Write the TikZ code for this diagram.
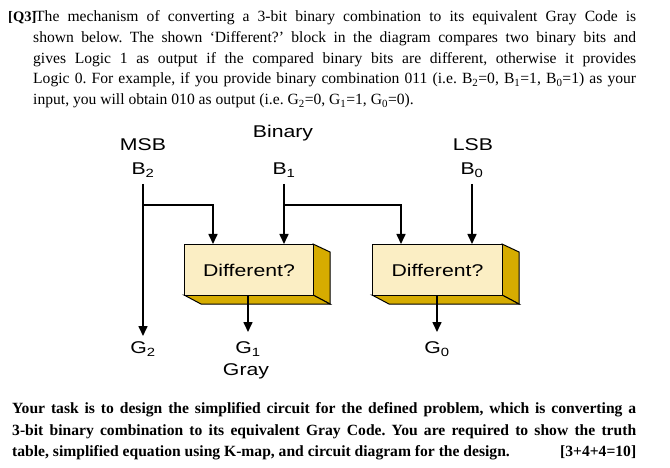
\documentclass[tikz,border=0pt]{standalone}
\usepackage{fontspec}
\setmainfont{Liberation Serif}
\newfontfamily\labfont[FakeStretch=1.25]{Liberation Sans}
\usetikzlibrary{arrows.meta}
\definecolor{face}{HTML}{FBEEC4}
\definecolor{side}{HTML}{D6AC00}
\newcommand{\jl}[1]{\makebox[603pt][s]{#1}}
\newcommand{\jb}[1]{\makebox[624pt][s]{#1}}
\tikzset{
  wire/.style={line width=1.6pt},
  arr/.style={wire,-{Triangle[length=10pt,width=9pt]}},
  lab/.style={font=\labfont\fontsize{17}{19}\selectfont,inner sep=0pt},
  txt/.style={anchor=base west,inner sep=0pt,font=\frenchspacing\fontsize{15.6}{17}\selectfont},
  btxt/.style={txt,font=\frenchspacing\fontsize{15.6}{17}\selectfont\bfseries}
}
\begin{document}
\begin{tikzpicture}[x=1pt,y=-1pt]
\useasboundingbox (0,0) rectangle (670,468);
\node[btxt,font=\fontsize{14.5}{16}\selectfont\bfseries] (q) at (8,22) {[Q3]};
\node[txt] (l1) at (35,22) {\makebox[601pt][s]{The mechanism of converting a 3-bit binary combination to its equivalent Gray Code is}};
\node[txt] (l2) at (33,43) {\jl{shown below. The shown ‘Different?’ block in the diagram compares two binary bits and}};
\node[txt] (l3) at (33,64) {\jl{gives Logic 1 as output if the compared binary bits are different, otherwise it provides}};
\node[txt] (l4) at (33,84) {\jl{Logic 0. For example, if you provide binary combination 011 (i.e. B\textsubscript{2}=0, B\textsubscript{1}=1, B\textsubscript{0}=1) as your}};
\node[txt] (l5) at (33,105) {input, you will obtain 010 as output (i.e. G\textsubscript{2}=0, G\textsubscript{1}=1, G\textsubscript{0}=0).};
\node[btxt] (b1) at (12,413) {\jb{Your task is to design the simplified circuit for the defined problem, which is converting a}};
\node[btxt] (b2) at (12,435) {\jb{3-bit binary combination to its equivalent Gray Code. You are required to show the truth}};
\node[btxt] (b3) at (12,456) {\makebox[624pt][l]{table, simplified equation using K-map, and circuit diagram for the design.\hfill[3+4+4=10]}};
\node[lab] (msb) at (143,145) {MSB};
\node[lab] (bin) at (283,133) {Binary};
\node[lab] (lsb) at (473,145) {LSB};
\node[lab] (b2) at (143,170) {B\textsubscript{2}};
\node[lab] (b1n) at (284,170) {B\textsubscript{1}};
\node[lab] (b0) at (472,170) {B\textsubscript{0}};
\node[lab] (g2) at (143,349) {G\textsubscript{2}};
\node[lab] (g1) at (248,349) {G\textsubscript{1}};
\node[lab] (gray) at (246,371) {Gray};
\node[lab] (g0) at (437,349) {G\textsubscript{0}};
\foreach \n/\xa/\xb in {d1/184/313, d2/372/502}{
  \fill[side,draw=black,line width=1pt] (\xb,244) -- (\xb+17,252) -- (\xb+17,304) -- (\xb,295) -- cycle;
  \fill[side,draw=black,line width=1pt] (\xa,295) -- (\xb,295) -- (\xb+17,304) -- (\xa+17,304) -- cycle;
  \node[draw=black,line width=1pt,fill=face,minimum width=\xb-\xa,minimum height=51,inner sep=0pt,lab,anchor=north west] (\n) at (\xa,244) {Different?};
}
\coordinate (s2) at (143,184);
\coordinate (s1) at (284,184);
\coordinate (s0) at (472,184);
\coordinate (j2) at (143,205);
\coordinate (j1) at (284,205);
\coordinate (e2) at (143,336);
\draw[wire] (s2) -- (j2);
\draw[arr] (j2) -- (e2);
\draw[arr] (j2) -- (213,205) -- (213,244);
\draw[arr] (s1) -- (284,244);
\draw[arr] (j1) -- (401,205) -- (401,244);
\draw[arr] (s0) -- (472,244);
\draw[arr] (248,295) -- (248,332);
\draw[arr] (437,295) -- (437,332);
\end{tikzpicture}
\end{document}
